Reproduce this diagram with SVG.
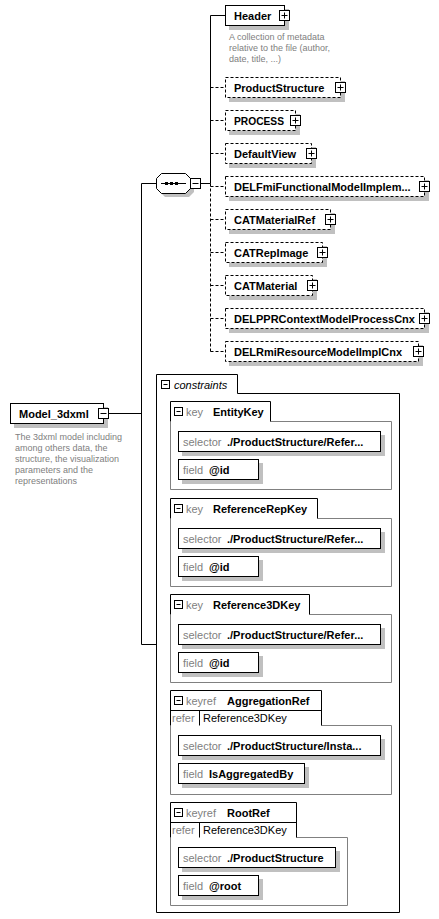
<svg xmlns="http://www.w3.org/2000/svg" width="439" height="919" viewBox="0 0 439 919">
<style>
.bx{fill:#fff;stroke:#000;stroke-width:1}
.opt{stroke-dasharray:3 2}
.sh{fill:#c0c0c0;stroke:none}
.ln{fill:none;stroke:#000;stroke-width:1}
.dl{fill:none;stroke:#000;stroke-width:1;stroke-dasharray:3 2}
.gb{fill:none;stroke:#808080;stroke-width:1}
.nm{font-family:"Liberation Sans",Arial,sans-serif;font-size:11px;font-weight:bold;fill:#000}
.ds{font-family:"Liberation Sans",Arial,sans-serif;font-size:9px;fill:#808080}
.lb{font-family:"Liberation Sans",Arial,sans-serif;font-size:11px;fill:#808080}
.tx{font-family:"Liberation Sans",Arial,sans-serif;font-size:11px;fill:#000}
.it{font-family:"Liberation Sans",Arial,sans-serif;font-size:11px;font-style:italic;fill:#000}
</style>
<defs>
<g id="plus"><rect x="0" y="0" width="10" height="10" class="bx"/><path d="M2,5H8M5,2V8" class="ln"/></g>
<g id="minus"><rect x="0" y="0" width="10" height="10" class="bx"/><path d="M2,5H8" class="ln"/></g>
<g id="minS"><rect x="0" y="0" width="8" height="8" class="bx"/><path d="M2,4H6" class="ln"/></g>
</defs>

<g id="connectors">
<path class="ln" d="M210.5,15.5V183.5M210.5,15.5H225.5"/>
<path class="dl" d="M210.5,183.5V351.5M210.5,87.5H225.5M210.5,120.5H225.5M210.5,153.5H225.5M210.5,186.5H225.5M210.5,219.5H225.5M210.5,252.5H225.5M210.5,285.5H225.5M210.5,318.5H225.5M210.5,351.5H225.5"/>
<path class="ln" d="M200.5,183.5H210.5M141.5,183.5H156.5M141.5,183.5V644.5H156.5M108.5,413.5H141.5"/>
</g>

<g id="Model_3dxml">
<rect class="sh" x="14" y="407" width="94" height="21"/>
<rect class="bx" x="10.5" y="403.5" width="93" height="20"/>
<text class="nm" x="19" y="418">Model_3dxml</text>
<use href="#minus" x="98.5" y="408.5"/>
<text class="ds"><tspan x="15" y="440">The 3dxml model including</tspan><tspan x="15" y="451">among others data, the</tspan><tspan x="15" y="462">structure, the visualization</tspan><tspan x="15" y="473">parameters and the</tspan><tspan x="15" y="484">representations</tspan></text>
</g>

<g id="sequence">
<polygon class="sh" points="165,178 189,178 194,183 194,192 189,197 165,197 160,192 160,183"/>
<polygon class="bx" points="161.5,173.5 185.5,173.5 190.5,178.5 190.5,188.5 185.5,193.5 161.5,193.5 156.5,188.5 156.5,178.5"/>
<path class="ln" d="M161,183.5H186"/>
<rect x="165" y="182" width="3" height="3" fill="#000"/>
<rect x="170" y="182" width="3" height="3" fill="#000"/>
<rect x="175" y="182" width="3" height="3" fill="#000"/>
<use href="#minus" x="190.5" y="178.5"/>
</g>

<g id="Header">
<rect class="sh" x="229" y="9" width="60" height="21"/>
<rect class="bx" x="225.5" y="5.5" width="59" height="20"/>
<text class="nm" x="234" y="19.5">Header</text>
<use href="#plus" x="279.5" y="10.5"/>
<text class="ds"><tspan x="229" y="39.5">A collection of metadata</tspan><tspan x="229" y="50.5">relative to the file (author,</tspan><tspan x="229" y="61.5">date, title, ...)</tspan></text>
</g>

<g id="ProductStructure">
<rect class="sh" x="229" y="81" width="116" height="21"/>
<rect class="bx opt" x="225.5" y="77.5" width="115" height="20"/>
<text class="nm" x="234" y="91.5">ProductStructure</text>
<use href="#plus" x="335.5" y="82.5"/>
</g>

<g id="PROCESS">
<rect class="sh" x="229" y="114" width="71" height="21"/>
<rect class="bx opt" x="225.5" y="110.5" width="70" height="20"/>
<text class="nm" x="234" y="124.5" textLength="50" lengthAdjust="spacingAndGlyphs">PROCESS</text>
<use href="#plus" x="290.5" y="115.5"/>
</g>

<g id="DefaultView">
<rect class="sh" x="229" y="147" width="87" height="21"/>
<rect class="bx opt" x="225.5" y="143.5" width="86" height="20"/>
<text class="nm" x="234" y="157.5">DefaultView</text>
<use href="#plus" x="306.5" y="148.5"/>
</g>

<g id="DELFmiFunctionalModelImplem">
<rect class="sh" x="229" y="180" width="200" height="21"/>
<rect class="bx opt" x="225.5" y="176.5" width="199" height="20"/>
<text class="nm" x="234" y="190.5">DELFmiFunctionalModelImplem...</text>
<use href="#plus" x="419.5" y="181.5"/>
</g>

<g id="CATMaterialRef">
<rect class="sh" x="229" y="213" width="106" height="21"/>
<rect class="bx opt" x="225.5" y="209.5" width="105" height="20"/>
<text class="nm" x="234" y="223.5">CATMaterialRef</text>
<use href="#plus" x="325.5" y="214.5"/>
</g>

<g id="CATRepImage">
<rect class="sh" x="229" y="246" width="98" height="21"/>
<rect class="bx opt" x="225.5" y="242.5" width="97" height="20"/>
<text class="nm" x="234" y="256.5">CATRepImage</text>
<use href="#plus" x="317.5" y="247.5"/>
</g>

<g id="CATMaterial">
<rect class="sh" x="229" y="279" width="88" height="21"/>
<rect class="bx opt" x="225.5" y="275.5" width="87" height="20"/>
<text class="nm" x="234" y="289.5">CATMaterial</text>
<use href="#plus" x="307.5" y="280.5"/>
</g>

<g id="DELPPRContextModelProcessCnx">
<rect class="sh" x="229" y="312" width="200" height="21"/>
<rect class="bx opt" x="225.5" y="308.5" width="199" height="20"/>
<text class="nm" x="234" y="322.5">DELPPRContextModelProcessCnx</text>
<use href="#plus" x="419.5" y="313.5"/>
</g>

<g id="DELRmiResourceModelImplCnx">
<rect class="sh" x="229" y="345" width="194" height="21"/>
<rect class="bx opt" x="225.5" y="341.5" width="193" height="20"/>
<text class="nm" x="234" y="355.5">DELRmiResourceModelImplCnx</text>
<use href="#plus" x="413.5" y="346.5"/>
</g>

<g id="constraints">
<path class="bx" d="M156.5,374.5H237.5V393.5H399.5V912.5H156.5Z"/>
<use href="#minS" x="161.5" y="380.5"/>
<text class="it" x="174" y="388.5">constraints</text>
</g>

<g id="EntityKey">
<path class="gb" d="M270.5,421.5H391.5V489.5H170.5V421.5"/>
<path class="ln" d="M170.5,421.5V401.5H270.5V421.5"/>
<use href="#minS" x="174.5" y="407.5"/>
<text class="lb" x="186" y="416">key</text>
<text class="nm" x="213" y="416">EntityKey</text>
<rect class="sh" x="182" y="435" width="203" height="21"/>
<rect class="bx" x="178.5" y="431.5" width="202" height="20"/>
<text class="lb" x="183" y="445.5">selector</text>
<text class="nm" x="227" y="445.5">./ProductStructure/Refer...</text>
<rect class="sh" x="182" y="463" width="81" height="21"/>
<rect class="bx" x="178.5" y="459.5" width="80" height="20"/>
<text class="lb" x="183" y="473.5">field</text>
<text class="nm" x="209" y="473.5">@id</text>
</g>

<g id="ReferenceRepKey">
<path class="gb" d="M317.5,518.5H391.5V586.5H170.5V518.5"/>
<path class="ln" d="M170.5,518.5V498.5H317.5V518.5"/>
<use href="#minS" x="174.5" y="504.5"/>
<text class="lb" x="186" y="513">key</text>
<text class="nm" x="213" y="513">ReferenceRepKey</text>
<rect class="sh" x="182" y="532" width="203" height="21"/>
<rect class="bx" x="178.5" y="528.5" width="202" height="20"/>
<text class="lb" x="183" y="542.5">selector</text>
<text class="nm" x="227" y="542.5">./ProductStructure/Refer...</text>
<rect class="sh" x="182" y="560" width="81" height="21"/>
<rect class="bx" x="178.5" y="556.5" width="80" height="20"/>
<text class="lb" x="183" y="570.5">field</text>
<text class="nm" x="209" y="570.5">@id</text>
</g>

<g id="Reference3DKey">
<path class="gb" d="M309.5,614.5H391.5V682.5H170.5V614.5"/>
<path class="ln" d="M170.5,614.5V594.5H309.5V614.5"/>
<use href="#minS" x="174.5" y="600.5"/>
<text class="lb" x="186" y="609">key</text>
<text class="nm" x="213" y="609">Reference3DKey</text>
<rect class="sh" x="182" y="628" width="203" height="21"/>
<rect class="bx" x="178.5" y="624.5" width="202" height="20"/>
<text class="lb" x="183" y="638.5">selector</text>
<text class="nm" x="227" y="638.5">./ProductStructure/Refer...</text>
<rect class="sh" x="182" y="656" width="81" height="21"/>
<rect class="bx" x="178.5" y="652.5" width="80" height="20"/>
<text class="lb" x="183" y="666.5">field</text>
<text class="nm" x="209" y="666.5">@id</text>
</g>

<g id="AggregationRef">
<path class="gb" d="M321.5,725.5H391.5V794.5H170.5V725.5"/>
<path class="ln" d="M170.5,725.5V690.5H321.5V725.5M170.5,710.5H321.5M199.5,710.5V725.5"/>
<use href="#minS" x="174.5" y="696.5"/>
<text class="lb" x="186" y="705">keyref</text>
<text class="nm" x="227" y="705">AggregationRef</text>
<text class="lb" x="172" y="721.5">refer</text>
<text class="tx" x="203" y="721.5">Reference3DKey</text>
<rect class="sh" x="182" y="739" width="203" height="21"/>
<rect class="bx" x="178.5" y="735.5" width="202" height="20"/>
<text class="lb" x="183" y="749.5">selector</text>
<text class="nm" x="227" y="749.5">./ProductStructure/Insta...</text>
<rect class="sh" x="182" y="767" width="127" height="21"/>
<rect class="bx" x="178.5" y="763.5" width="126" height="20"/>
<text class="lb" x="183" y="777.5">field</text>
<text class="nm" x="209" y="777.5">IsAggregatedBy</text>
</g>

<g id="RootRef">
<path class="gb" d="M296.5,837.5H347.5V905.5H170.5V837.5"/>
<path class="ln" d="M170.5,837.5V802.5H296.5V837.5M170.5,822.5H296.5M199.5,822.5V837.5"/>
<use href="#minS" x="174.5" y="808.5"/>
<text class="lb" x="186" y="817">keyref</text>
<text class="nm" x="227" y="817">RootRef</text>
<text class="lb" x="172" y="833.5">refer</text>
<text class="tx" x="203" y="833.5">Reference3DKey</text>
<rect class="sh" x="182" y="851" width="158" height="21"/>
<rect class="bx" x="178.5" y="847.5" width="157" height="20"/>
<text class="lb" x="183" y="861.5">selector</text>
<text class="nm" x="227" y="861.5">./ProductStructure</text>
<rect class="sh" x="182" y="879" width="81" height="21"/>
<rect class="bx" x="178.5" y="875.5" width="80" height="20"/>
<text class="lb" x="183" y="889.5">field</text>
<text class="nm" x="209" y="889.5">@root</text>
</g>
</svg>
